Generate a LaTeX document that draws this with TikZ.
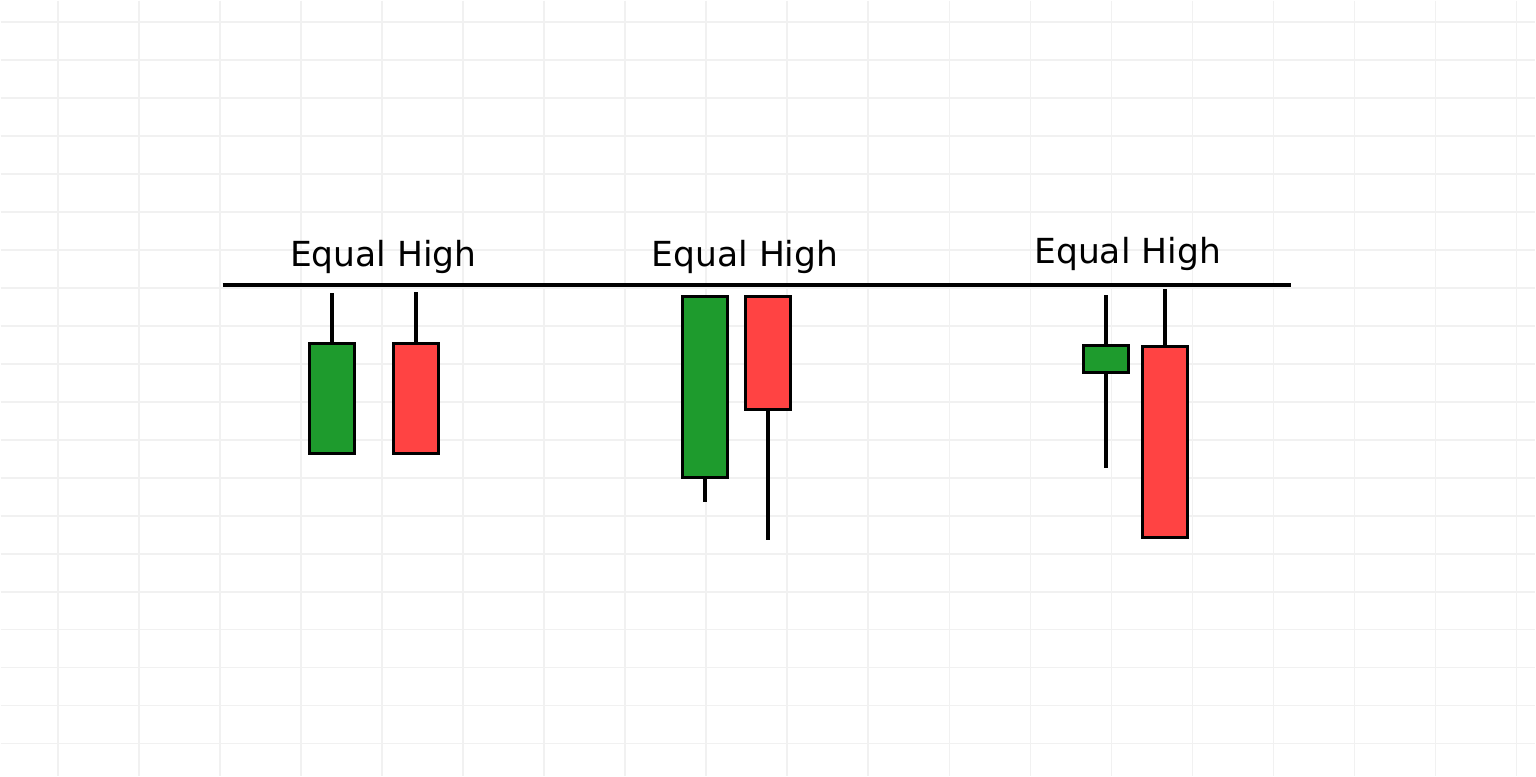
\documentclass[tikz,border=0pt]{standalone}
\usepackage{fontspec}
\setmainfont{DejaVu Sans}
\definecolor{bullgreen}{RGB}{30,155,45}
\definecolor{bearred}{RGB}{255,67,67}
\definecolor{gridgray}{RGB}{241,241,241}

\tikzset{every picture/.style={line width=0.75pt}}
\tikzset{
  gridline/.style={color=gridgray, line width=1.1pt},
  highline/.style={line width=3pt},
  wick/.style={line width=3pt},
  body/.style={draw, line width=2.3pt, inner sep=0pt, minimum width=33.75pt},
  bullbody/.style={body, fill=bullgreen},
  bearbody/.style={body, fill=bearred},
  eqlabel/.style={anchor=base, font=\fontsize{25.9pt}{30pt}\selectfont}
}

\begin{document}
\begin{tikzpicture}[x=0.75pt,y=0.75pt,yscale=-1,xscale=1]
\path (0,0) rectangle (1536,776); %set diagram size 1536 x 776

%Grid
\foreach \k in {0,...,18}
  \draw [gridline] (57.3+81.1*\k,0) -- (57.3+81.1*\k,776) ;
\foreach \k in {0,...,19}
  \draw [gridline] (0,21.3+38.02*\k) -- (1536,21.3+38.02*\k) ;

%Straight Lines: equal high level
\coordinate (levelL) at (222,285) ;
\coordinate (levelR) at (1291,285) ;
\draw [highline] (levelL) -- (levelR) ;

%Shape: Candles, first pair
\node [bullbody, minimum height=83pt] (g1) at (332,398.3) {};
\node [bearbody, minimum height=82.5pt] (r1) at (415.3,397.9) {};
\coordinate (g1top) at (332,293) ;
\coordinate (r1top) at (415.3,292) ;
\draw [wick] (g1.north) -- (g1top) ;
\draw [wick] (r1.north) -- (r1top) ;

%Shape: Candles, second pair
\node [bullbody, minimum height=135.7pt] (g2) at (705,386.9) {};
\node [bearbody, minimum height=84.6pt] (r2) at (768.2,352.7) {};
\coordinate (g2low) at (705,501.7) ;
\coordinate (r2low) at (768.2,540) ;
\draw [wick] (g2.south) -- (g2low) ;
\draw [wick] (r2.south) -- (r2low) ;

%Shape: Candles, third pair
\node [bullbody, minimum height=19.9pt] (g3) at (1106,358.8) {};
\node [bearbody, minimum height=144pt] (r3) at (1165.2,441.7) {};
\coordinate (g3top) at (1106,295) ;
\coordinate (g3low) at (1106,467.7) ;
\coordinate (r3top) at (1165.2,289) ;
\draw [wick] (g3.north) -- (g3top) ;
\draw [wick] (g3.south) -- (g3low) ;
\draw [wick] (r3.north) -- (r3top) ;

% Text Node
\node [eqlabel] (lab1) at (383,266) {Equal High};
% Text Node
\node [eqlabel] (lab2) at (745,266) {Equal High};
% Text Node
\node [eqlabel] (lab3) at (1128,262.7) {Equal High};

\end{tikzpicture}
\end{document}
